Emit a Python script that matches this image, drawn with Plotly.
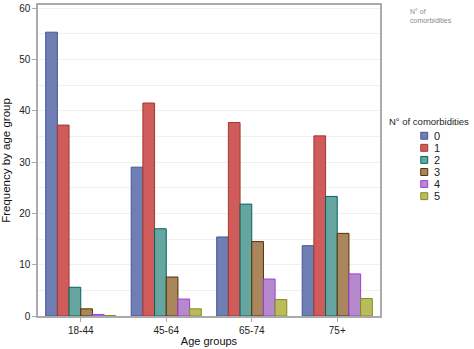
import plotly.graph_objects as go

age_groups = ["18-44", "45-64", "65-74", "75+"]
comorbidities = ["0", "1", "2", "3", "4", "5"]
values = {
    "0": [55.3, 29.0, 15.4, 13.7],
    "1": [37.2, 41.5, 37.7, 35.1],
    "2": [5.6, 17.0, 21.8, 23.3],
    "3": [1.4, 7.6, 14.5, 16.1],
    "4": [0.3, 3.3, 7.2, 8.2],
    "5": [0.1, 1.4, 3.2, 3.4],
}
fill_colors = ["#6F7EB3", "#D05B5B", "#66A5A0", "#A9865B", "#B689CD", "#BABC5C"]
line_colors = ["#445694", "#A23A2E", "#01665E", "#543005", "#9D3CDB", "#7F8E1F"]
y_ticks = [0, 10, 20, 30, 40, 50, 60]

FONT = "Liberation Sans, Arial, sans-serif"

fig = go.Figure()
for i, c in enumerate(comorbidities):
    fig.add_trace(go.Bar(
        x=age_groups, y=values[c], name=c,
        marker=dict(color=fill_colors[i], line=dict(color=line_colors[i], width=1)),
        showlegend=False,
    ))

# custom compact legend (layout only), positions in pixels from top-left
annotations = [
    dict(text="N° of comorbidities", x=387, y=121,
         xanchor="left", font=dict(size=9.5, color="#222")),
    dict(text="N° of<br>comorbidities", x=408, y=14,
         xanchor="left", align="left", font=dict(size=7, color="#8a8a8a")),
]
shapes = []
for i, c in enumerate(comorbidities):
    yc = 135 + i * 12.2
    shapes.append(dict(type="rect", x0=421, x1=428, y0=yc - 3.5, y1=yc + 3.5,
                       fillcolor=fill_colors[i], line=dict(color=line_colors[i], width=1)))
    annotations.append(dict(text=c, x=432, y=yc, xanchor="left",
                            font=dict(size=11, color="#222")))

# convert pixel positions to paper fractions
L, R, T, B = 36, 94, 3, 32
W, H = 474, 349
pw, ph = W - L - R, H - T - B
for a in annotations:
    a.update(xref="paper", yref="paper", showarrow=False, yanchor="middle")
    a["x"] = (a["x"] - L) / pw
    a["y"] = (H - a["y"] - B) / ph
for s in shapes:
    s.update(xref="paper", yref="paper")
    s["x0"] = (s["x0"] - L) / pw; s["x1"] = (s["x1"] - L) / pw
    y0, y1 = s["y0"], s["y1"]
    s["y0"] = (H - y1 - B) / ph; s["y1"] = (H - y0 - B) / ph

fig.update_layout(
    width=W, height=H,
    margin=dict(l=L, r=R, t=T, b=B),
    paper_bgcolor="white", plot_bgcolor="white",
    barmode="group", bargap=0.18, bargroupgap=0,
    font=dict(family=FONT, size=10, color="#222"),
    annotations=annotations, shapes=shapes,
    xaxis=dict(
        title=dict(text="Age groups", font=dict(size=11, color="#111"), standoff=3),
        showline=True, linecolor="#aaaaaa", linewidth=1.5, mirror=True,
        ticks="outside", ticklen=4, tickcolor="#aaaaaa",
        tickfont=dict(size=10, color="#222"),
    ),
    yaxis=dict(
        title=dict(text="Frequency by age group", font=dict(size=11.5, color="#111"), standoff=8),
        range=[0, 60.6], tickvals=y_ticks,
        showline=True, linecolor="#aaaaaa", linewidth=1.5, mirror=True,
        ticks="outside", ticklen=4, tickcolor="#aaaaaa",
        tickfont=dict(size=10, color="#222"),
        showgrid=True, gridcolor="#f0f0f0", gridwidth=1,
        minor=dict(dtick=5, showgrid=True, gridcolor="#f0f0f0"),
        zeroline=False,
    ),
)

fig.write_html("out.html")
